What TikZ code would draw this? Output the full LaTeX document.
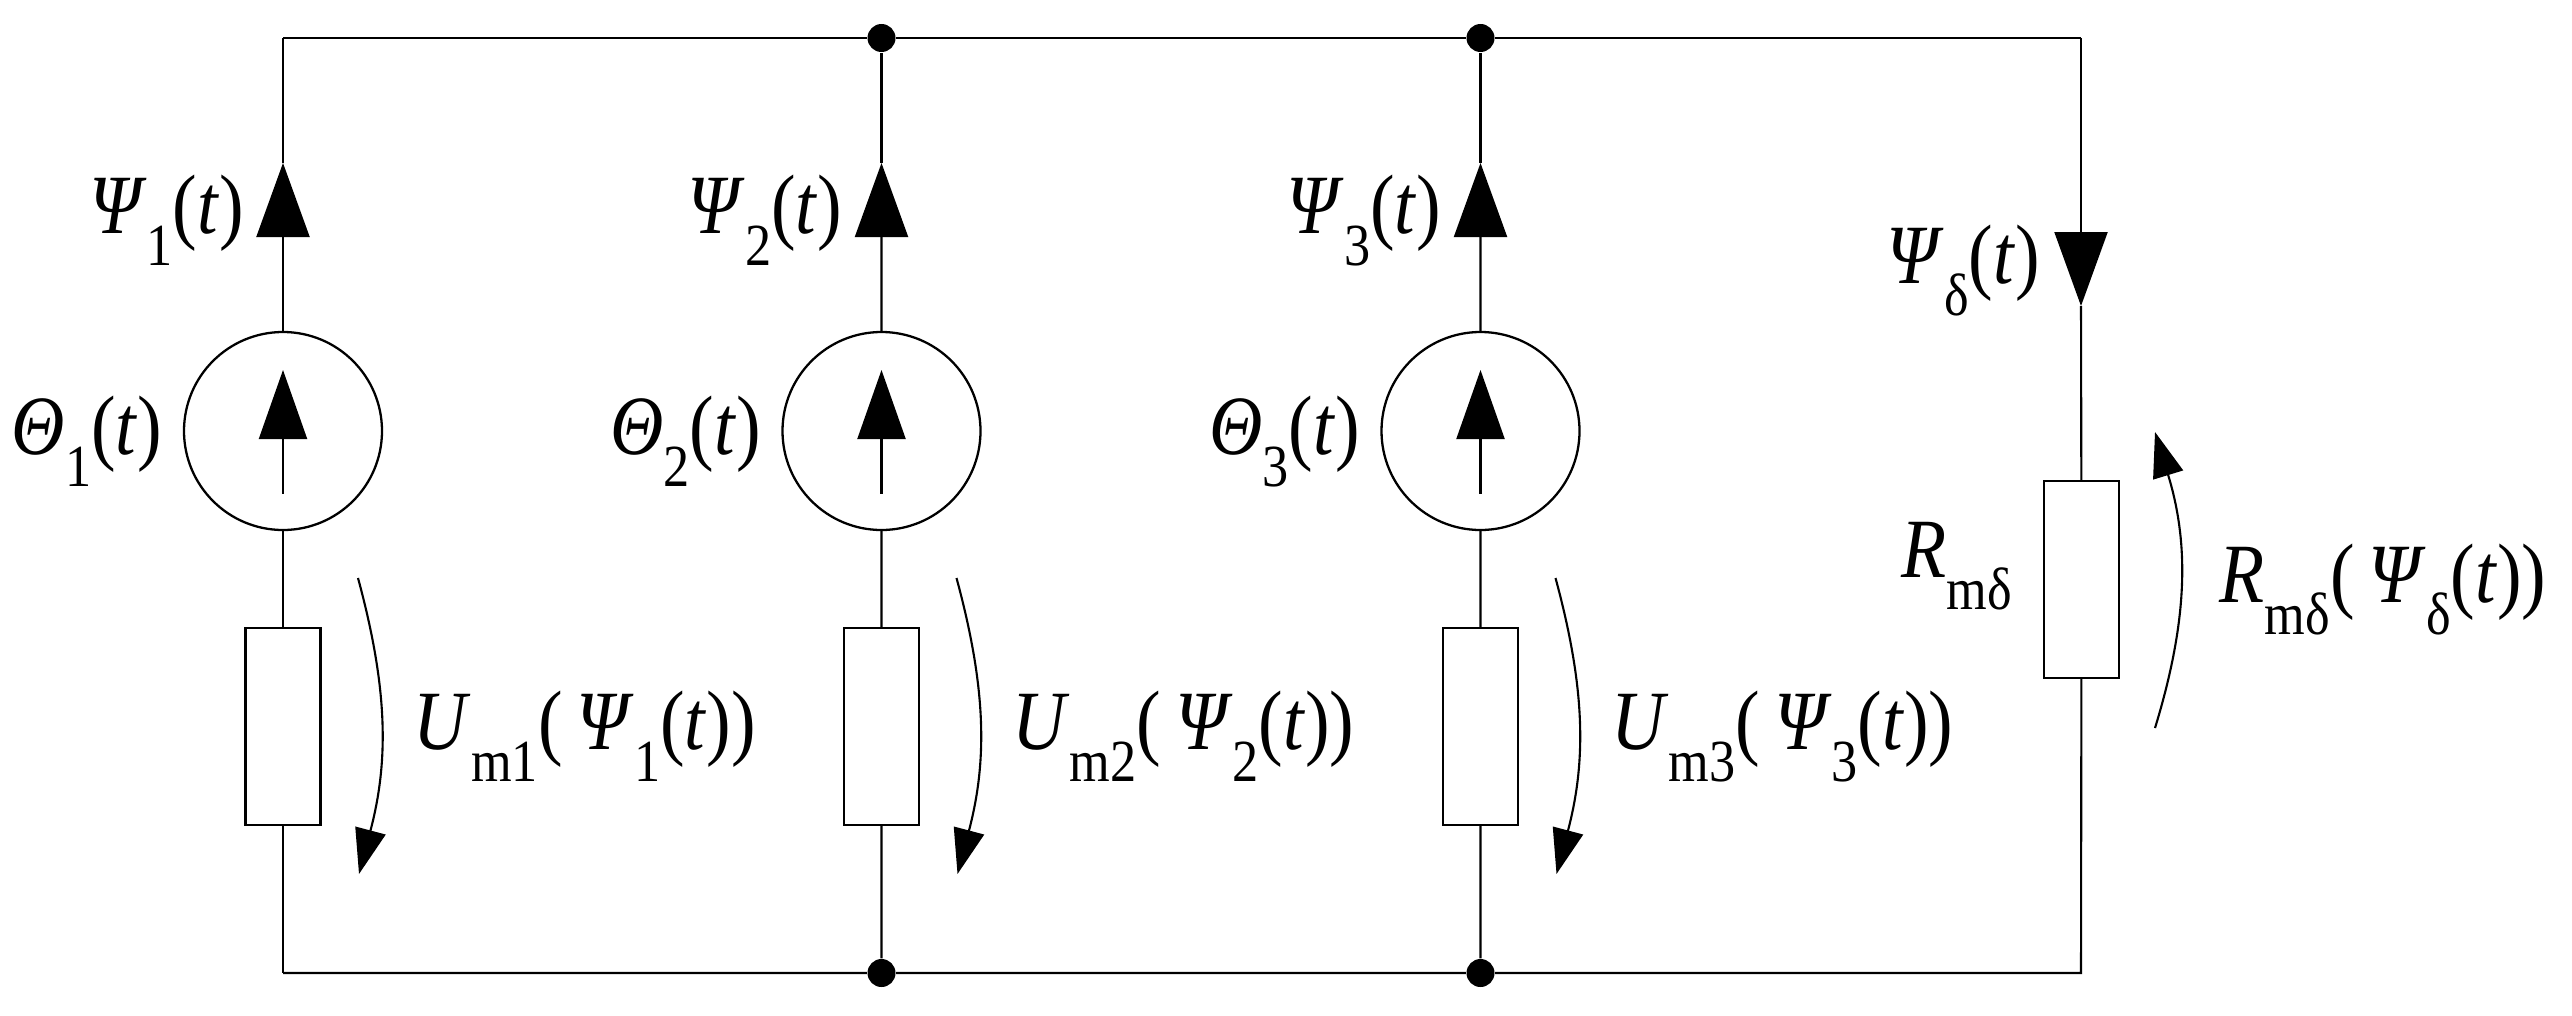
\documentclass[tikz,border=0pt]{standalone}
\usepackage{fontspec}
\setmainfont[FakeStretch=.875]{Liberation Serif}
\usetikzlibrary{arrows.meta, positioning}
\newcommand{\withlow}[2]{\textit{#1}\raisebox{-.38em}{\fontsize{17}{17}\selectfont #2}}
\tikzstyle{junction} = [circle, minimum size=.28cm, fill, inner sep=0pt]
\tikzstyle{wire} = [line width=.6pt]
\tikzstyle{source} = [draw, circle, line width=.65pt, minimum size=1.98cm, inner sep=0pt]
\tikzstyle{resistor} = [draw, rectangle, line width=.7pt, minimum width=.75cm, minimum height=1.97cm, inner sep=0pt]
\tikzstyle{flow} = [wire, -{Triangle[length=.74cm, width=.53cm]}]
\tikzstyle{inflow} = [wire, -{Triangle[length=.69cm, width=.48cm]}]
\tikzstyle{drop} = [wire, -{Triangle[length=.45cm, width=.31cm]}]
\tikzstyle{lab} = [anchor=base, inner sep=0pt, font=\fontsize{24}{28}\selectfont]

\begin{document}
\begin{tikzpicture}
    \useasboundingbox (0,0) rectangle (25.72,10.15);
    % sources and resistors
    \node (S1) [source] at (2.83,5.84) {};
    \node (S2) [source, right of=S1, xshift=4.985cm] {};
    \node (S3) [source, right of=S2, xshift=4.99cm] {};
    \node (R1) [resistor] at (2.83,2.885) {};
    \node (R2) [resistor, right of=R1, xshift=4.985cm] {};
    \node (R3) [resistor, right of=R2, xshift=4.99cm] {};
    \node (R4) [resistor, right of=R3, xshift=5.01cm, yshift=1.47cm] {};
    % corners and junctions
    \coordinate (TL) at (2.83,9.77);
    \coordinate (BL) at (2.83,.42);
    \coordinate (TR) at (20.81,9.77);
    \coordinate (BR) at (20.81,.42);
    \node (J2) [junction] at (8.815,9.77) {};
    \node (J3) [junction] at (14.805,9.77) {};
    \node (K2) [junction] at (8.815,.42) {};
    \node (K3) [junction] at (14.805,.42) {};
    % arrow tips on the wires
    \coordinate (F1) at (2.83,8.52);
    \coordinate (F2) at (8.815,8.52);
    \coordinate (F3) at (14.805,8.52);
    \coordinate (F4) at (20.81,7.09);
    % main loop
    \draw [wire] (BL) -- (K2) -- (K3) -- (BR) -- (R4);
    \draw [wire] (TL) -- (J2) -- (J3) -- (TR);
    \draw [flow] (TR) -- (F4);
    \draw [wire] (F4) -- (R4);
    \draw [flow] (S1) -- (F1);
    \draw [wire] (F1) -- (TL);
    \draw [flow] (S2) -- (F2);
    \draw [wire] (F2) -- (J2);
    \draw [flow] (S3) -- (F3);
    \draw [wire] (F3) -- (J3);
    \draw [wire] (S1) -- (R1) -- (BL);
    \draw [wire] (S2) -- (R2) -- (K2);
    \draw [wire] (S3) -- (R3) -- (K3);
    % arrows inside the sources
    \coordinate (A1) at (2.83,5.215);
    \coordinate (B1) at (2.83,6.45);
    \coordinate (A2) at (8.815,5.215);
    \coordinate (B2) at (8.815,6.45);
    \coordinate (A3) at (14.805,5.215);
    \coordinate (B3) at (14.805,6.45);
    \draw [inflow] (A1) -- (B1);
    \draw [inflow] (A2) -- (B2);
    \draw [inflow] (A3) -- (B3);
    % curved arrows
    \coordinate (C1) at (3.58,4.37);
    \coordinate (D1) at (3.59,1.41);
    \coordinate (C2) at (9.565,4.37);
    \coordinate (D2) at (9.575,1.41);
    \coordinate (C3) at (15.555,4.37);
    \coordinate (D3) at (15.565,1.41);
    \coordinate (C4) at (21.55,2.87);
    \coordinate (D4) at (21.55,5.83);
    \draw [drop] (C1) to [bend left=15] (D1);
    \draw [drop] (C2) to [bend left=15] (D2);
    \draw [drop] (C3) to [bend left=15] (D3);
    \draw [drop] (C4) to [bend right=17] (D4);
    % labels
    \node (LF1) [lab] at (1.665,7.82) {\withlow{Ψ}{1}(\textit{t})};
    \node (LF2) [lab] at (7.65,7.82) {\withlow{Ψ}{2}(\textit{t})};
    \node (LF3) [lab] at (13.64,7.82) {\withlow{Ψ}{3}(\textit{t})};
    \node (LF4) [lab] at (19.635,7.32) {\withlow{Ψ}{δ}(\textit{t})};
    \node (LS1) [lab] at (.87,5.61) {\withlow{Θ}{1}(\textit{t})};
    \node (LS2) [lab] at (6.855,5.61) {\withlow{Θ}{2}(\textit{t})};
    \node (LS3) [lab] at (12.845,5.61) {\withlow{Θ}{3}(\textit{t})};
    \node (LU1) [lab] at (5.85,2.66) {\withlow{U}{m1}(\,\withlow{Ψ}{1}(\textit{t}))};
    \node (LU2) [lab] at (11.835,2.66) {\withlow{U}{m2}(\,\withlow{Ψ}{2}(\textit{t}))};
    \node (LU3) [lab] at (17.825,2.66) {\withlow{U}{m3}(\,\withlow{Ψ}{3}(\textit{t}))};
    \node (LR4) [lab] at (19.57,4.38) {\withlow{R}{mδ}};
    \node (LU4) [lab] at (23.83,4.13) {\withlow{R}{mδ}(\,\withlow{Ψ}{δ}(\textit{t}))};
\end{tikzpicture}
\end{document}
